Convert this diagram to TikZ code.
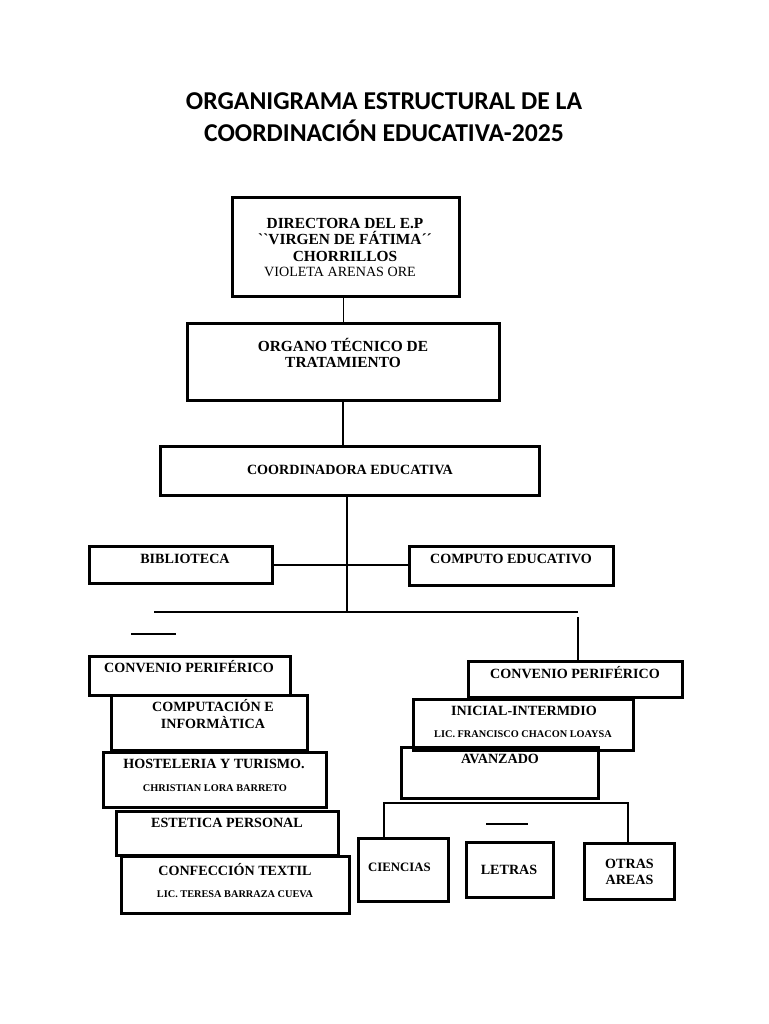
\documentclass[tikz,border=0pt]{standalone}
\usepackage{fontspec}
\setmainfont{Liberation Serif}[Ligatures=TeXOff]
\newfontfamily\titlefont{Carlito}

\begin{document}
\begin{tikzpicture}[x=1pt, y=-1pt,
  lbl/.style={inner sep=0pt, align=center, font=\bfseries\fontsize{14.1}{16.5}\selectfont},
  big/.style={lbl, font=\bfseries\fontsize{15.4}{16.3}\selectfont},
  small/.style={lbl, font=\bfseries\fontsize{10.3}{12}\selectfont},
  link/.style={line width=2pt}]
\useasboundingbox (0,0) rectangle (768,1024);

\node [inner sep=0pt, align=center, font=\titlefont\bfseries\fontsize{25.7}{32}\selectfont] (title) at (384,117) {ORGANIGRAMA ESTRUCTURAL DE LA\\COORDINACIÓN EDUCATIVA-2025};

\begin{scope}[every node/.style={draw, line width=3pt, inner sep=0pt}]
\node [minimum width=227, minimum height=98] (dir) at (345.5,247) {};
\node [minimum width=312, minimum height=77] (org) at (343,361.5) {};
\node [minimum width=379, minimum height=49] (coord) at (349.5,470.5) {};
\node [minimum width=183, minimum height=37] (bib) at (180.5,564.5) {};
\node [minimum width=204, minimum height=39] (comp) at (511,565.5) {};
\node [minimum width=201, minimum height=39] (convL) at (189.5,675.5) {};
\node [minimum width=196, minimum height=55] (inf) at (209,722.5) {};
\node [minimum width=223, minimum height=55] (host) at (214.5,779.5) {};
\node [minimum width=222, minimum height=44] (est) at (227,833) {};
\node [minimum width=228, minimum height=57] (conf) at (235,884.5) {};
\node [minimum width=214, minimum height=36] (convR) at (575,679) {};
\node [minimum width=220, minimum height=51] (inic) at (523,724.5) {};
\node [minimum width=197, minimum height=51] (avan) at (499.5,772.5) {};
\node [minimum width=90, minimum height=63] (cien) at (403,870) {};
\node [minimum width=87, minimum height=55] (letr) at (509.5,869.5) {};
\node [minimum width=90, minimum height=56] (otras) at (629,871) {};
\end{scope}

\node [big] (dirT) at (345,239.75) {DIRECTORA DEL E.P\\``VIRGEN DE FÁTIMA´´\\CHORRILLOS};
\node [lbl, font=\fontsize{14.1}{16.5}\selectfont] (dirN) at (340,272) {VIOLETA ARENAS ORE};
\node [big] (orgT) at (343,353) {ORGANO TÉCNICO DE\\TRATAMIENTO};
\node [lbl] (coordT) at (350,470) {COORDINADORA EDUCATIVA};
\node [lbl] (bibT) at (185,559) {BIBLIOTECA};
\node [lbl] (compT) at (511,559) {COMPUTO EDUCATIVO};
\node [lbl] (convLT) at (189,667) {CONVENIO PERIFÉRICO};
\node [lbl] (infT) at (213,714) {COMPUTACIÓN E\\INFORMÀTICA};
\node [lbl] (hostT) at (214,764) {HOSTELERIA Y TURISMO.};
\node [small] (hostN) at (215,788) {CHRISTIAN LORA BARRETO};
\node [lbl] (estT) at (227,823) {ESTETICA PERSONAL};
\node [lbl] (confT) at (235,870) {CONFECCIÓN TEXTIL};
\node [small] (confN) at (235,894) {LIC. TERESA BARRAZA CUEVA};
\node [lbl] (convRT) at (575,673) {CONVENIO PERIFÉRICO};
\node [lbl] (inicT) at (524,711) {INICIAL-INTERMDIO};
\node [small] (inicN) at (523,734) {LIC. FRANCISCO CHACON LOAYSA};
\node [lbl] (avanT) at (500,759) {AVANZADO};
\node [lbl, font=\bfseries\fontsize{12.8}{15}\selectfont] (cienT) at (399.5,867) {CIENCIAS};
\node [lbl] (letrT) at (509,870) {LETRAS};
\node [lbl, font=\bfseries\fontsize{14.1}{16}\selectfont] (otrasT) at (629.5,871.5) {OTRAS\\AREAS};

\coordinate (hub) at (347,612);
\coordinate (barL) at (154,612);
\coordinate (barR) at (578,612);
\coordinate (drop) at (578,617);
\coordinate (dashA) at (131,634);
\coordinate (dashB) at (176,634);
\coordinate (brL) at (384,803);
\coordinate (brR) at (628,803);
\coordinate (dashC) at (486,824);
\coordinate (dashD) at (528,824);

\draw [line width=1pt] (dir.south -| org.north) -- (org.north);
\draw [link] (org.south) -- (org.south |- coord.north);
\draw [link] (coord.south -| hub) -- (hub);
\draw [link] (bib.east) -- (bib.east -| comp.west);
\draw [link] (barL) -- (barR);
\draw [link] (drop) -- (drop |- convR.north);
\draw [link] (dashA) -- (dashB);
\draw [link] (brL |- cien.north) -- (brL) -- (brR) -- (brR |- otras.north);
\draw [link] (dashC) -- (dashD);
\end{tikzpicture}
\end{document}
